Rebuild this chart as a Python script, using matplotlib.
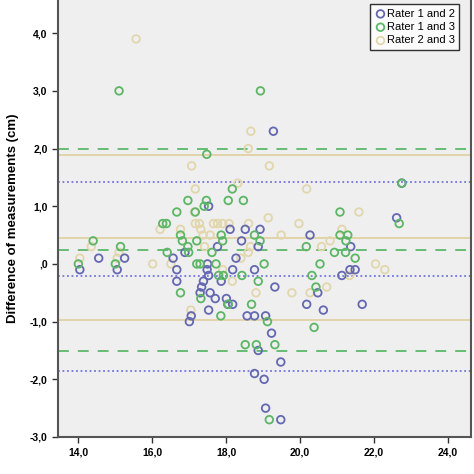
import matplotlib
matplotlib.use("Agg")
from matplotlib import pyplot as plt

plt.rcParams['font.family'] = ['Liberation Sans', 'DejaVu Sans']

# Bland-Altman style data: mean (x) vs difference (y)
r12_x = [14.05, 14.56, 15.06, 15.26, 16.57, 16.67, 16.67, 16.89, 17.30, 17.34,
         17.39, 17.53, 17.49, 17.50, 17.53, 17.53, 17.57, 17.71, 17.77, 17.87,
         18.11, 18.01, 18.18, 18.27, 18.42, 18.52, 18.77, 18.87, 18.92, 18.18,
         18.05, 17.06, 18.57, 18.77, 19.07, 19.32, 20.18, 20.48, 20.63, 21.13,
         21.37, 21.35, 21.49, 21.68, 22.61, 22.75, 20.27, 19.28, 17.01, 19.23,
         18.87, 19.48, 18.77, 19.03, 19.07, 19.48]
r12_y = [-0.1, 0.1, -0.1, 0.1, 0.1, -0.1, -0.3, 0.2, -0.5, -0.4,
         -0.3, 1.0, -0.1, 0.0, -0.2, -0.8, -0.5, -0.6, 0.3, -0.3,
         0.6, -0.6, -0.1, 0.1, 0.4, 0.6, -0.1, 0.3, 0.6, -0.7,
         -0.7, -0.9, -0.9, -0.9, -0.9, -0.4, -0.7, -0.5, -0.8, -0.2,
         0.3, -0.1, -0.1, -0.7, 0.8, 1.4, 0.5, 2.3, -1.0, -1.2,
         -1.5, -1.7, -1.9, -2.0, -2.5, -2.7]

r13_x = [14.01, 14.41, 15.01, 15.15, 16.29, 16.39, 16.41, 16.67, 16.77, 16.82,
         16.77, 16.97, 16.99, 16.97, 17.17, 17.21, 17.21, 17.30, 17.32, 17.47,
         17.41, 17.62, 17.73, 17.80, 17.93, 17.87, 17.91, 17.86, 18.06, 18.17,
         18.47, 18.43, 18.69, 18.77, 18.92, 18.87, 19.03, 20.17, 20.32, 20.43,
         20.54, 20.93, 21.08, 21.08, 21.24, 21.23, 21.29, 21.49, 22.75, 22.68,
         15.11, 17.48, 18.93, 19.12, 20.38, 18.52, 18.82, 19.32, 19.17, 18.06]
r13_y = [0.0, 0.4, 0.0, 0.3, 0.7, 0.7, 0.2, 0.9, 0.5, 0.4,
         -0.5, 0.3, 0.2, 1.1, 0.9, 0.4, 0.0, 0.0, -0.6, 1.1,
         1.0, 0.2, 0.0, -0.2, -0.2, 0.5, 0.4, -0.9, 1.1, 1.3,
         1.1, -0.2, -0.7, 0.5, 0.4, -0.3, 0.0, 0.3, -0.2, -0.4,
         0.0, 0.2, 0.9, 0.5, 0.4, 0.2, 0.5, 0.1, 1.4, 0.7,
         3.0, 1.9, 3.0, -1.0, -1.1, -1.4, -1.4, -1.4, -2.7, -0.7]

r23_x = [14.05, 14.36, 15.06, 15.11, 16.02, 16.22, 16.51, 16.77, 17.07, 17.17,
         17.17, 17.28, 17.32, 17.38, 17.57, 17.42, 17.66, 17.77, 17.91, 18.08,
         18.32, 18.61, 18.60, 18.66, 18.81, 18.17, 17.91, 19.14, 19.17, 19.49,
         19.78, 19.97, 20.18, 20.58, 20.72, 20.81, 21.13, 21.34, 21.59, 22.04,
         22.29, 20.27, 17.05, 15.57, 18.67, 18.60, 17.15, 18.40]
r23_y = [0.1, 0.3, 0.1, 0.2, 0.0, 0.6, 0.0, 0.6, 1.7, 1.3,
         0.7, 0.7, 0.6, 0.5, 0.5, 0.3, 0.7, 0.7, 0.7, 0.7,
         1.4, 0.7, 0.2, 0.3, -0.5, -0.3, -0.1, 0.8, 1.7, 0.5,
         -0.5, 0.7, 1.3, 0.3, -0.4, 0.4, 0.6, -0.2, 0.9, 0.0,
         -0.1, -0.5, -0.8, 3.9, 2.3, 2.0, 0.9, 0.1]

# mean difference and limits of agreement
r12_lines = [1.42, -0.21, -1.85]
r13_lines = [2.0, 0.24, -1.51]
r23_lines = [1.88, 0.45, -0.97]

labels = ["Rater 1 and 2", "Rater 1 and 3", "Rater 2 and 3"]
xticks = [14, 16, 18, 20, 22, 24]
yticks = [-3, -2, -1, 0, 1, 2, 3, 4]

c_blue = "#6468b0"
c_green = "#5cb665"
c_tan = "#e2d6ac"

fig = plt.figure(figsize=(4.74, 4.74), dpi=100)
ax = fig.add_axes([58 / 474, 37 / 474, 413 / 474, 437 / 474])
ax.set_facecolor("#efefef")

for v in r23_lines:
    ax.axhline(v, color="#e0d2a4", lw=1.3, zorder=1)
for v in r13_lines:
    ax.axhline(v, color="#5cb86a", lw=1.3, ls=(0, (6, 5)), zorder=1)
for v in r12_lines:
    ax.axhline(v, color="#7474e0", lw=1.3, ls=(0, (1, 1.5)), zorder=1)

ax.scatter(r12_x, r12_y, s=30, facecolors="none", edgecolors=c_blue, linewidths=1.3, label=labels[0], zorder=3)
ax.scatter(r13_x, r13_y, s=30, facecolors="none", edgecolors=c_green, linewidths=1.3, label=labels[1], zorder=3)
ax.scatter(r23_x, r23_y, s=30, facecolors="none", edgecolors=c_tan, linewidths=1.3, label=labels[2], zorder=2)

ax.set_xlim(13.46, 24.62)
ax.set_ylim(-3.0, 4.575)

def fmt(v):
    s = "%.1f" % v
    s = s.replace(".", ",")
    if s == "0,0":
        s = ",0"
    return s

ax.set_xticks(xticks)
ax.set_xticklabels([fmt(v) for v in xticks], fontsize=7.5, fontweight="bold")
ax.set_yticks(yticks)
ax.set_yticklabels([fmt(v) for v in yticks], fontsize=7.5, fontweight="bold")
ax.tick_params(direction="out", length=4, width=1, color="#333333")

for side in ["left", "bottom", "right"]:
    ax.spines[side].set_color("#555555")
    ax.spines[side].set_linewidth(1.5)
ax.spines["top"].set_visible(False)

ax.set_ylabel("Difference of measurements (cm)", fontsize=9.5, fontweight="bold", labelpad=8)

leg = ax.legend(loc="upper right", bbox_to_anchor=(0.971, 0.99), fontsize=8, frameon=True,
                fancybox=False, edgecolor="black", handletextpad=0.05, borderpad=0.4,
                labelspacing=0.3, handlelength=1.0, borderaxespad=0)
leg.get_frame().set_linewidth(1.0)

fig.savefig("out.png", dpi=100)
